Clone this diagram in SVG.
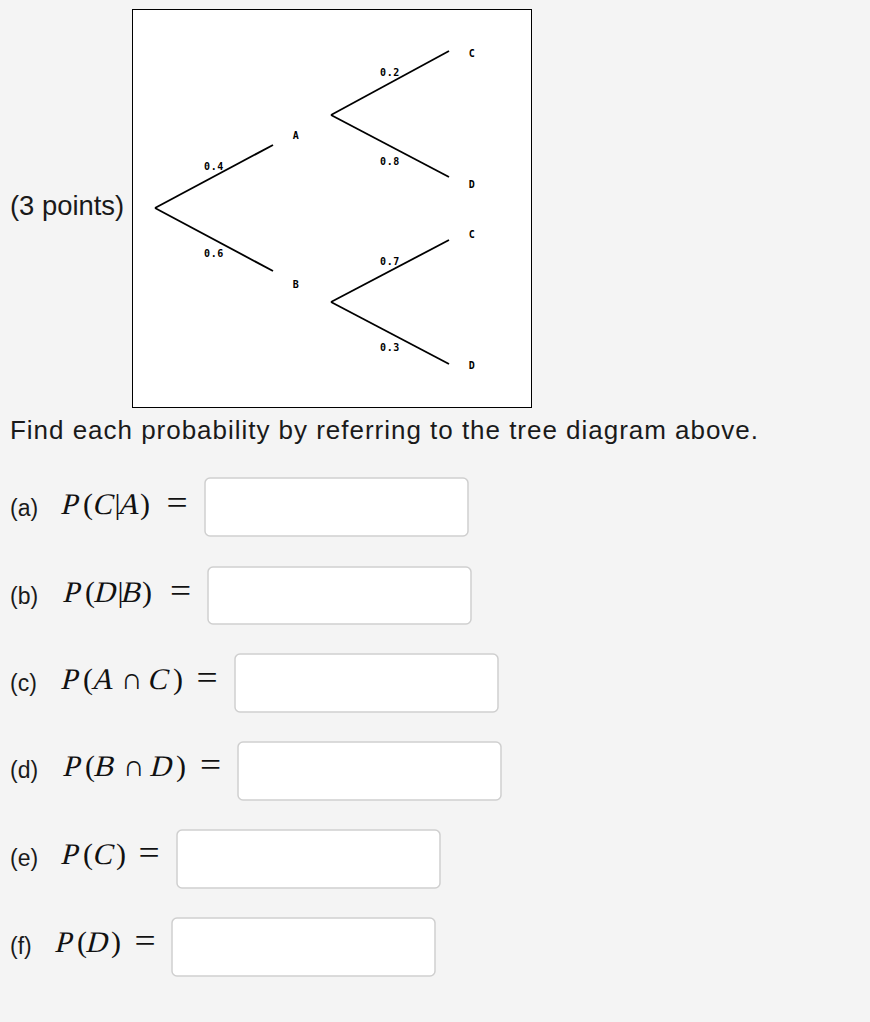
<svg xmlns="http://www.w3.org/2000/svg" width="870" height="1022" viewBox="0 0 870 1022">
<style>
.bg{fill:#f4f4f4}
.frame{fill:#fff;stroke:#000;stroke-width:1}
.edge{stroke:#000;stroke-width:1.8;fill:none}
.t{font-family:"DejaVu Sans Mono",monospace;font-size:10px;font-weight:bold;fill:#000;text-anchor:middle;letter-spacing:0.6px}
.sans{font-family:"Liberation Sans",Arial,sans-serif;fill:#1a1a1a}
.lbl{font-family:"Liberation Sans",Arial,sans-serif;fill:#1a1a1a;font-size:23px}
.m{font-family:"Liberation Serif","Times New Roman",serif;font-size:30px;fill:#111}
.eq{font-family:"Liberation Serif","Times New Roman",serif;font-size:30px;fill:#111;text-anchor:middle}
.box{fill:#fff;stroke:#cfcfcf;stroke-width:1.5}
</style>
<rect class="bg" x="0" y="0" width="870" height="1022"/>
<text class="sans" x="10" y="215" font-size="27.4">(3 points)</text>
<rect class="frame" x="132.5" y="9.5" width="399" height="398"/>
<g id="connectors">
<line class="edge" x1="155" y1="208" x2="273" y2="145"/>
<line class="edge" x1="155" y1="208" x2="273" y2="271"/>
<line class="edge" x1="331" y1="115" x2="449" y2="51"/>
<line class="edge" x1="331" y1="115" x2="449" y2="177"/>
<line class="edge" x1="331" y1="302" x2="449" y2="240"/>
<line class="edge" x1="331" y1="302" x2="449" y2="364"/>
<text class="t" x="214" y="169.5">0.4</text>
<text class="t" x="214" y="256.5">0.6</text>
<text class="t" x="390" y="75.5">0.2</text>
<text class="t" x="390" y="164.5">0.8</text>
<text class="t" x="390" y="264.5">0.7</text>
<text class="t" x="390" y="350.5">0.3</text>
</g>
<g id="node-A"><text class="t" x="296" y="138.5">A</text></g>
<g id="node-B"><text class="t" x="296" y="287.5">B</text></g>
<g id="node-C1"><text class="t" x="472" y="56.5">C</text></g>
<g id="node-D1"><text class="t" x="472" y="187.5">D</text></g>
<g id="node-C2"><text class="t" x="472" y="237.5">C</text></g>
<g id="node-D2"><text class="t" x="472" y="368.5">D</text></g>
<text class="sans" x="10" y="439" font-size="26" textLength="748" lengthAdjust="spacing">Find each probability by referring to the tree diagram above.</text>
<g id="q-a">
<text class="lbl" x="10" y="516">(a)</text>
<text class="m" transform="translate(60,514) skewX(-14)">P</text>
<text class="m" x="83" y="514">(</text>
<text class="m" transform="translate(92,514) skewX(-14)">C</text>
<text class="m" x="114.5" y="514">|</text>
<text class="m" transform="translate(117,514) skewX(-14)">A</text>
<text class="m" x="140" y="514">)</text>
<text class="eq" transform="translate(177,514) scale(1.25,1.1)">=</text>
<rect class="box" x="205" y="478" width="263" height="58" rx="5"/>
</g>
<g id="q-b">
<text class="lbl" x="10" y="604">(b)</text>
<text class="m" transform="translate(62,602) skewX(-14)">P</text>
<text class="m" x="85" y="602">(</text>
<text class="m" transform="translate(93,602) skewX(-14)">D</text>
<text class="m" x="117.5" y="602">|</text>
<text class="m" transform="translate(120,602) skewX(-14)">B</text>
<text class="m" x="142" y="602">)</text>
<text class="eq" transform="translate(180.5,602) scale(1.25,1.1)">=</text>
<rect class="box" x="208" y="567" width="263" height="57" rx="5"/>
</g>
<g id="q-c">
<text class="lbl" x="10" y="691">(c)</text>
<text class="m" transform="translate(60,689) skewX(-14)">P</text>
<text class="m" x="83" y="689">(</text>
<text class="m" transform="translate(91,689) skewX(-14)">A</text>
<text class="m" x="121" y="689">∩</text>
<text class="m" transform="translate(147,689) skewX(-14)">C</text>
<text class="m" x="173" y="689">)</text>
<text class="eq" transform="translate(207,689) scale(1.25,1.1)">=</text>
<rect class="box" x="235" y="654" width="263" height="58" rx="5"/>
</g>
<g id="q-d">
<text class="lbl" x="10" y="778">(d)</text>
<text class="m" transform="translate(62,776) skewX(-14)">P</text>
<text class="m" x="85" y="776">(</text>
<text class="m" transform="translate(93,776) skewX(-14)">B</text>
<text class="m" x="123" y="776">∩</text>
<text class="m" transform="translate(149,776) skewX(-14)">D</text>
<text class="m" x="176" y="776">)</text>
<text class="eq" transform="translate(210.5,776) scale(1.25,1.1)">=</text>
<rect class="box" x="238" y="742" width="263" height="58" rx="5"/>
</g>
<g id="q-e">
<text class="lbl" x="10" y="866">(e)</text>
<text class="m" transform="translate(60,864) skewX(-14)">P</text>
<text class="m" x="83" y="864">(</text>
<text class="m" transform="translate(92,864) skewX(-14)">C</text>
<text class="m" x="116" y="864">)</text>
<text class="eq" transform="translate(149,864) scale(1.25,1.1)">=</text>
<rect class="box" x="177" y="830" width="263" height="58" rx="5"/>
</g>
<g id="q-f">
<text class="lbl" x="10" y="954">(f)</text>
<text class="m" transform="translate(54,952) skewX(-14)">P</text>
<text class="m" x="77" y="952">(</text>
<text class="m" transform="translate(85,952) skewX(-14)">D</text>
<text class="m" x="111" y="952">)</text>
<text class="eq" transform="translate(145,952) scale(1.25,1.1)">=</text>
<rect class="box" x="172" y="918" width="263" height="58" rx="5"/>
</g>
</svg>
